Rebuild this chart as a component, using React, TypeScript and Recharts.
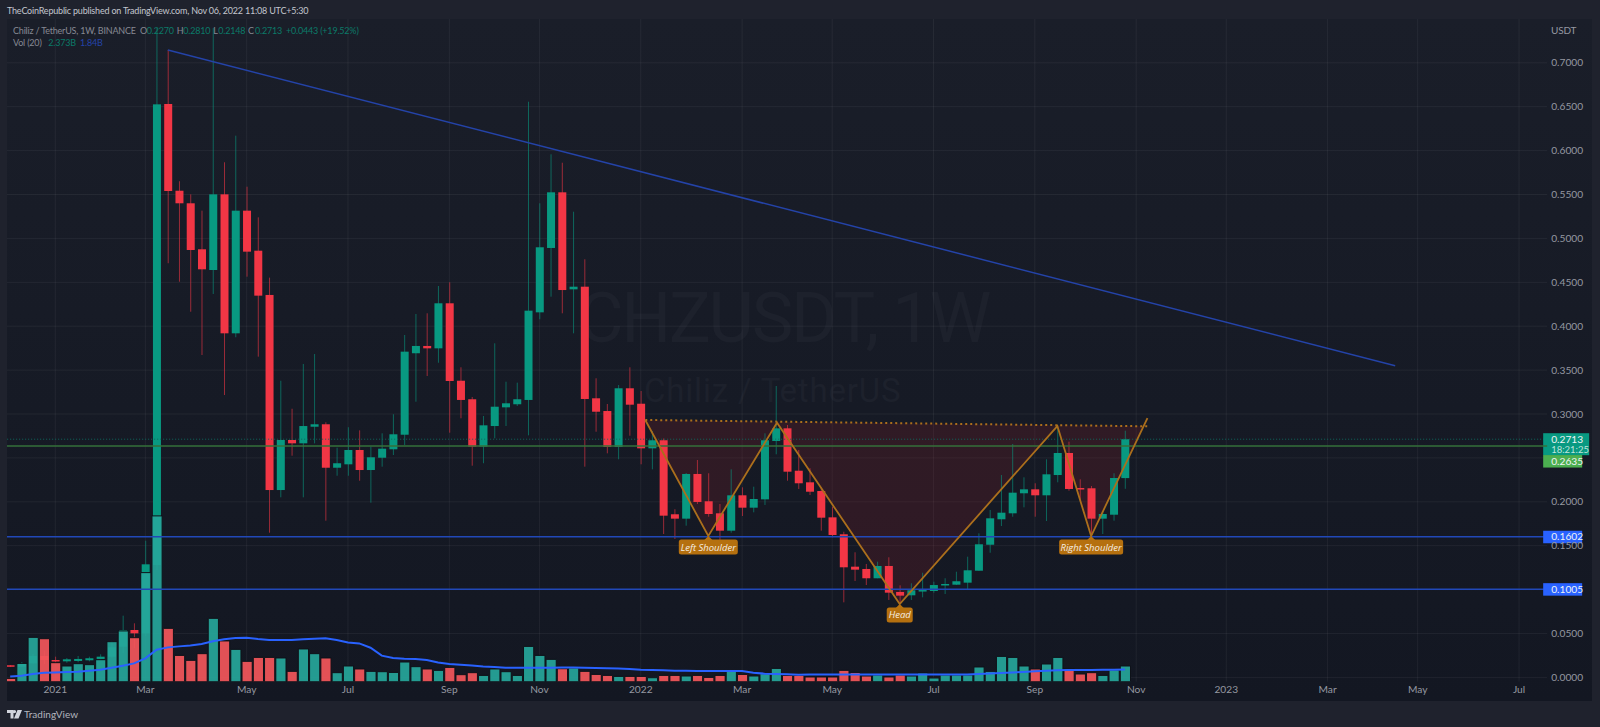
import { Area, Bar, CartesianGrid, Cell, ComposedChart, Line, ReferenceDot, ReferenceLine, XAxis, YAxis } from "recharts";

// weekly candles, BINANCE CHZ/USDT
const opens = [
  0.0138, 0.0122, 0.0161, 0.0244, 0.0198, 0.0183, 0.0187, 0.0195, 0.021, 0.0236,
  0.035, 0.054, 0.0502, 0.128, 0.6531, 0.5543, 0.54, 0.4876, 0.464, 0.5502,
  0.3919, 0.5316, 0.486, 0.4356, 0.2134, 0.2704, 0.2666, 0.2855, 0.2883, 0.2388,
  0.2427, 0.259, 0.2362, 0.2502, 0.2598, 0.2764, 0.3692, 0.3775, 0.3748, 0.4261,
  0.3379, 0.3168, 0.2628, 0.2863, 0.3076, 0.3111, 0.316, 0.4158, 0.4891, 0.5525,
  0.442, 0.445, 0.3179, 0.3034, 0.2624, 0.3293, 0.3117, 0.2609, 0.2701, 0.1858,
  0.1808, 0.2317, 0.2006, 0.1869, 0.1671, 0.2074, 0.1933, 0.2028, 0.2693, 0.2837,
  0.2354, 0.2222, 0.2123, 0.1823, 0.163, 0.1261, 0.1235, 0.1129, 0.1269, 0.0973,
  0.0935, 0.0984, 0.0984, 0.1049, 0.1056, 0.1079, 0.1215, 0.1511, 0.1801, 0.1869,
  0.2097, 0.2142, 0.2074, 0.2305, 0.2556, 0.2157, 0.2154, 0.1808, 0.1853, 0.227,
];
const closes = [
  0.013, 0.0158, 0.0244, 0.0198, 0.0183, 0.0206, 0.021, 0.0218, 0.0236, 0.0343,
  0.054, 0.0502, 0.1288, 0.6527, 0.554, 0.54, 0.4868, 0.4648, 0.5502, 0.3919,
  0.5316, 0.4849, 0.4348, 0.2134, 0.2704, 0.2666, 0.2863, 0.2883, 0.2388, 0.2439,
  0.259, 0.2362, 0.2507, 0.2605, 0.2769, 0.371, 0.3775, 0.3748, 0.4261, 0.3376,
  0.316, 0.2628, 0.2871, 0.3083, 0.3122, 0.3168, 0.4177, 0.4899, 0.5525, 0.4412,
  0.445, 0.3171, 0.3026, 0.2624, 0.3293, 0.3106, 0.2609, 0.2701, 0.1842, 0.1808,
  0.2317, 0.1998, 0.1861, 0.1671, 0.2074, 0.1933, 0.2032, 0.2701, 0.2837, 0.2343,
  0.2211, 0.2115, 0.1819, 0.1622, 0.1254, 0.1227, 0.1129, 0.1269, 0.0965, 0.0931,
  0.0992, 0.0995, 0.1052, 0.1064, 0.1095, 0.122, 0.1516, 0.1812, 0.1876, 0.2104,
  0.2142, 0.2074, 0.2313, 0.2556, 0.2146, 0.2146, 0.1808, 0.1861, 0.2271, 0.2713,
];
const highs = [
  0.0141, 0.0175, 0.0267, 0.0304, 0.0236, 0.0221, 0.0244, 0.0236, 0.0263, 0.0415,
  0.0703, 0.0616, 0.1557, 0.7396, 0.7146, 0.5651, 0.5502, 0.5316, 0.7396, 0.5867,
  0.617, 0.5589, 0.524, 0.4553, 0.3379, 0.306, 0.357, 0.3683, 0.2906, 0.2616,
  0.2849, 0.2814, 0.2628, 0.278, 0.2997, 0.39, 0.4139, 0.4147, 0.4458, 0.45,
  0.3532, 0.3194, 0.2977, 0.3805, 0.3368, 0.3357, 0.6557, 0.54, 0.5958, 0.5862,
  0.5304, 0.4762, 0.3407, 0.3114, 0.333, 0.3532, 0.3262, 0.2806, 0.2721, 0.1915,
  0.2328, 0.2476, 0.2325, 0.1975, 0.237, 0.2165, 0.2172, 0.278, 0.3319, 0.2875,
  0.259, 0.2382, 0.2165, 0.1944, 0.1659, 0.1425, 0.1292, 0.1318, 0.1368, 0.1049,
  0.1072, 0.1192, 0.109, 0.1129, 0.1204, 0.1375, 0.1641, 0.1907, 0.2305, 0.2658,
  0.2279, 0.2211, 0.2484, 0.2863, 0.2685, 0.2256, 0.218, 0.1895, 0.2325, 0.281,
];
const lows = [
  0.0118, 0.0118, 0.0153, 0.0153, 0.0164, 0.0167, 0.0172, 0.0183, 0.0198, 0.0224,
  0.0278, 0.0335, 0.0472, 0.1223, 0.4717, 0.4507, 0.4165, 0.3672, 0.4367, 0.3216,
  0.3874, 0.4564, 0.3653, 0.1648, 0.2051, 0.2525, 0.2051, 0.2666, 0.1785, 0.2297,
  0.2297, 0.224, 0.199, 0.24, 0.2533, 0.2647, 0.314, 0.3433, 0.3584, 0.2787,
  0.2951, 0.2411, 0.2439, 0.2723, 0.2863, 0.3091, 0.2757, 0.4079, 0.4336, 0.4147,
  0.3919, 0.24, 0.2798, 0.2552, 0.2484, 0.2753, 0.2427, 0.237, 0.1633, 0.1576,
  0.1728, 0.1975, 0.183, 0.1527, 0.1648, 0.1838, 0.188, 0.1964, 0.2541, 0.224,
  0.2146, 0.2077, 0.1671, 0.1596, 0.0855, 0.1098, 0.1052, 0.1129, 0.0882, 0.0836,
  0.0882, 0.0912, 0.0965, 0.095, 0.1052, 0.1003, 0.1215, 0.142, 0.1724, 0.183,
  0.1937, 0.183, 0.1781, 0.2222, 0.2126, 0.2021, 0.1611, 0.1633, 0.1785, 0.2148,
];
// volume in billions
const volumes = [
  0.5, 2.76, 6.69, 6.49, 2.87, 2.37, 2.72, 2.57, 3.32, 6.04,
  7.66, 6.64, 16.46, 25.02, 8.05, 3.97, 3.22, 4.23, 9.56, 6.15,
  4.88, 3.07, 3.67, 3.67, 3.58, 1.56, 4.94, 4.23, 3.58, 1.36,
  2.37, 1.92, 1.56, 1.51, 1.4, 2.97, 2.27, 1.92, 1.71, 2.16,
  1.06, 1.36, 0.95, 1.92, 1.51, 0.95, 5.33, 3.97, 3.37, 1.96,
  2.07, 1.56, 1.1, 0.95, 0.8, 0.8, 0.8, 0.6, 0.95, 0.95,
  0.86, 0.95, 0.65, 0.95, 1.56, 1.1, 0.86, 1.21, 2.01, 0.95,
  0.95, 0.71, 0.71, 0.71, 1.71, 1.4, 0.86, 1.01, 0.71, 1.01,
  0.86, 1.31, 0.56, 1.01, 1.01, 1.01, 2.22, 1.56, 3.82, 3.67,
  2.37, 1.92, 2.67, 3.67, 1.92, 1.16, 1.36, 0.95, 1.77, 2.37,
];
const volumeMa = [
  0.8, 0.91, 1.16, 1.36, 1.4, 1.46, 1.51, 1.66, 1.81, 2.11,
  2.42, 2.76, 3.52, 4.83, 5.18, 5.33, 5.48, 5.69, 6.09, 6.39,
  6.6, 6.64, 6.45, 6.3, 6.3, 6.3, 6.39, 6.49, 6.54, 6.3,
  5.93, 5.78, 5.13, 3.93, 3.58, 3.47, 3.43, 3.28, 2.91, 2.67,
  2.57, 2.46, 2.31, 2.2, 2.11, 2.11, 2.11, 2.11, 2.11, 2.14,
  2.16, 2.11, 2.08, 2.04, 2.01, 1.93, 1.81, 1.78, 1.72, 1.66,
  1.66, 1.63, 1.62, 1.62, 1.62, 1.62, 1.36, 1.21, 1.18, 1.13,
  1.06, 1.1, 1.1, 1.1, 1.1, 1.1, 1.1, 1.1, 1.1, 1.1,
  1.1, 1.1, 1.1, 1.1, 1.1, 1.1, 1.16, 1.24, 1.31, 1.39,
  1.46, 1.56, 1.66, 1.71, 1.77, 1.77, 1.77, 1.8, 1.81, 1.84,
];

const priceTicks = [0, 0.05, 0.1, 0.15, 0.2, 0.25, 0.3, 0.35, 0.4, 0.45, 0.5, 0.55, 0.6, 0.65, 0.7];
// these two are hidden behind the price tags in the picture
const coveredTicks = [0.1, 0.25];

const monthTicks: Record<string, string> = {
  "2021-01-04": "2021", "2021-03-01": "Mar", "2021-05-03": "May", "2021-07-05": "Jul",
  "2021-09-06": "Sep", "2021-11-01": "Nov", "2022-01-03": "2022", "2022-03-07": "Mar",
  "2022-05-02": "May", "2022-07-04": "Jul", "2022-09-05": "Sep", "2022-11-07": "Nov",
  "2023-01-02": "2023", "2023-03-06": "Mar", "2023-05-01": "May", "2023-07-03": "Jul",
};

// drawings, i = week index (fractions allowed), v = price
const trendLine = [{ i: 14, v: 0.7146 }, { i: 123, v: 0.355 }];
const patternLine = [
  { i: 56.4, v: 0.2932 }, { i: 62, v: 0.161 }, { i: 68.1, v: 0.2901 }, { i: 79, v: 0.0836 },
  { i: 93, v: 0.2863 }, { i: 96, v: 0.161 }, { i: 101, v: 0.2954 },
];
const necklineDots = [{ i: 56.4, v: 0.2932 }, { i: 101, v: 0.286 }];
const patternFill = [
  { i: 56.4, range: [0.2932, 0.2932] }, { i: 62, range: [0.161, 0.2922] }, { i: 68.1, range: [0.2901, 0.2912] },
  { i: 79, range: [0.0836, 0.2895] }, { i: 93, range: [0.2863, 0.2872] }, { i: 96, range: [0.161, 0.2868] },
  { i: 100.7, range: [0.2861, 0.2861] },
];
const patternLabels = [
  { text: "Left Shoulder", i: 62, v: 0.161 },
  { text: "Head", i: 79, v: 0.0836 },
  { text: "Right Shoulder", i: 96, v: 0.161 },
];
const labelWidths: Record<string, number> = { "Left Shoulder": 59, Head: 26, "Right Shoulder": 64 };

const ohlcLegend = [
  { key: "O", value: "0.2270", keyX: 140, valueX: 146.7 },
  { key: "H", value: "0.2810", keyX: 176.7, valueX: 183.3 },
  { key: "L", value: "0.2148", keyX: 213.3, valueX: 218.3 },
  { key: "C", value: "0.2713", keyX: 248, valueX: 255 },
];

const GREEN = "#089981";
const RED = "#f23645";
const AXIS_TEXT = "#9598a1";
const LEGEND_GREEN = "#0b7a68";
const FONT = "Lato, 'Open Sans', sans-serif";

// one category per week, the last ones are the empty space to the right of the last candle
const weeks = Array.from({ length: 137 }, (_, i) =>
  new Date(Date.UTC(2020, 11, 7 + i * 7)).toISOString().slice(0, 10)
);

const rows = weeks.map((week, i) => ({
  week,
  open: opens[i],
  close: closes[i],
  candle: opens[i] === undefined ? null : [lows[i], highs[i]],
  volume: volumes[i] ?? null,
  ma: volumeMa[i] ?? null,
}));

function Candle({ x, y, width, height, payload }: any) {
  if (payload.open === undefined || !height) return null;
  const top = Math.min(y, y + height);
  const h = Math.abs(height);
  const [low, high] = payload.candle;
  const perUnit = h / (high - low);
  const up = payload.close >= payload.open;
  const color = up ? GREEN : RED;
  const bodyTop = top + (high - Math.max(payload.open, payload.close)) * perUnit;
  const bodyH = Math.max(Math.abs(payload.close - payload.open) * perUnit, 1.5);
  const mid = x + width / 2;
  return (
    <g>
      <line x1={mid} x2={mid} y1={top} y2={top + h} stroke={color} strokeOpacity={0.6} strokeWidth={1} />
      <rect x={x} y={bodyTop} width={width} height={bodyH} fill={color} />
    </g>
  );
}

// shift: the 0.2635 tag sits below the 0.2713 one instead of on its own line
function PriceTag({ viewBox, text, sub, color, boxWidth, shift = 0 }: any) {
  const left = viewBox.x + viewBox.width - 4;
  const cy = viewBox.y + shift;
  return (
    <g>
      <rect x={left} y={cy - 6} width={boxWidth} height={sub ? 22 : 12.5} fill={color} />
      <text x={left + 8} y={cy + 3.5} fontSize={10.2} fontFamily={FONT} fill="#eef3f5">{text}</text>
      {sub && <text x={left + 8} y={cy + 13.5} fontSize={9.5} fontFamily={FONT} fill="#bfe3db">{sub}</text>}
    </g>
  );
}

function PatternLabel({ cx, cy, text }: any) {
  const w = labelWidths[text];
  return (
    <g>
      <path d={`M${cx} ${cy} l-5 5 h10 z`} fill="#b5700f" />
      <rect x={cx - w / 2} y={cy + 3.5} width={w} height={15} rx={2.5} fill="#b5700f" />
      <text x={cx} y={cy + 14.5} textAnchor="middle" fontSize={9.5} fontStyle="italic" fontFamily="'Open Sans', sans-serif" fill="#f5efe4">{text}</text>
    </g>
  );
}

function App() {
  const smallText = { position: "absolute", fontSize: 9, whiteSpace: "pre", letterSpacing: -0.2 } as const;
  return (
    <div style={{ position: "absolute", left: 0, top: 0, width: 1600, height: 727, overflow: "hidden", background: "#1f222d", fontFamily: FONT }}>
      <div style={{ position: "absolute", left: 7, top: 19, width: 1585, height: 682, background: "linear-gradient(#1a1e29, #131722)" }} />
      <div style={{ position: "absolute", left: 578, top: 277, fontSize: 70, letterSpacing: -2.3, color: "#1d212c", whiteSpace: "nowrap", fontFamily: "Roboto, sans-serif" }}>CHZUSDT, 1W</div>
      <div style={{ position: "absolute", left: 644, top: 371, fontSize: 33, letterSpacing: 0.8, color: "#1d212c", whiteSpace: "nowrap", fontFamily: "Roboto, sans-serif" }}>Chiliz / TetherUS</div>

      <div style={{ position: "absolute", left: 0, top: 0 }}>
        <ComposedChart width={1600} height={727} data={rows} margin={{ top: 19, left: 4.57, right: 4.83, bottom: 25.3 }}>
          <CartesianGrid xAxisId="time" yAxisId="price" stroke="#ffffff" strokeOpacity={0.055} syncWithTicks />
          <XAxis
            xAxisId="time"
            dataKey="week"
            ticks={Object.keys(monthTicks)}
            interval={0}
            tickFormatter={(w: string) => monthTicks[w]}
            tick={{ fill: AXIS_TEXT, fontSize: 10.2, fontFamily: FONT }}
            tickLine={false}
            axisLine={false}
            height={20}
            tickSize={0}
            tickMargin={4}
          />
          <XAxis xAxisId="vol" dataKey="week" orientation="top" height={0} hide />
          <XAxis xAxisId="n" dataKey="i" type="number" domain={[-0.5, 136.5]} allowDataOverflow orientation="top" height={0} hide />
          <YAxis
            yAxisId="price"
            orientation="right"
            domain={[-0.0049, 0.7499]}
            allowDataOverflow
            ticks={priceTicks}
            interval={0}
            tickFormatter={(v: number) => (coveredTicks.includes(v) ? "" : v.toFixed(4))}
            tick={{ fill: AXIS_TEXT, fontSize: 10.2, fontFamily: FONT }}
            tickLine={false}
            axisLine={false}
            tickSize={0}
            tickMargin={4}
            width={48}
          />
          <YAxis yAxisId="volume" domain={[0, 100]} allowDataOverflow hide />

          <Area
            xAxisId="n"
            yAxisId="price"
            data={patternFill}
            dataKey="range"
            type="linear"
            stroke="none"
            fill="#8b1f2a"
            fillOpacity={0.22}
            dot={false}
            activeDot={false}
            isAnimationActive={false}
          />

          <ReferenceLine xAxisId="time" yAxisId="price" y={0.2713} stroke="#0e6a5d" strokeDasharray="1 2" label={<PriceTag text="0.2713" sub="18:21:25" color={GREEN} boxWidth={46} />} />
          <ReferenceLine xAxisId="time" yAxisId="price" y={0.2635} stroke="#34703a" strokeWidth={1.5} label={<PriceTag text="0.2635" color="#4caf50" boxWidth={39} shift={15} />} />
          <ReferenceLine xAxisId="time" yAxisId="price" y={0.1602} stroke="#2148b8" strokeWidth={1.5} label={<PriceTag text="0.1602" color="#2962ff" boxWidth={39} />} />
          <ReferenceLine xAxisId="time" yAxisId="price" y={0.1005} stroke="#2148b8" strokeWidth={1.5} label={<PriceTag text="0.1005" color="#2962ff" boxWidth={39} />} />

          <Bar xAxisId="time" yAxisId="price" dataKey="candle" barSize={8} shape={<Candle />} isAnimationActive={false} />

          <Bar xAxisId="vol" yAxisId="volume" dataKey="volume" barSize={10.2} stroke="#0f1219" strokeWidth={1} fillOpacity={0.93} isAnimationActive={false}>
            {rows.map((r) => (
              <Cell key={r.week} fill={r.close >= r.open ? "#26a69a" : "#f2565a"} />
            ))}
          </Bar>
          <Line xAxisId="vol" yAxisId="volume" dataKey="ma" stroke="#2962ff" strokeWidth={2} dot={false} activeDot={false} isAnimationActive={false} />

          <Line xAxisId="n" yAxisId="price" data={trendLine} dataKey="v" stroke="#2443a8" strokeWidth={1.5} dot={false} activeDot={false} isAnimationActive={false} />
          <Line xAxisId="n" yAxisId="price" data={necklineDots} dataKey="v" stroke="#ab6f1c" strokeWidth={2} strokeDasharray="2 3" dot={false} activeDot={false} isAnimationActive={false} />
          <Line xAxisId="n" yAxisId="price" data={patternLine} dataKey="v" stroke="#ab6f1c" strokeWidth={1.8} dot={false} activeDot={false} isAnimationActive={false} />

          {patternLabels.map((l) => (
            <ReferenceDot key={l.text} xAxisId="n" yAxisId="price" x={l.i} y={l.v} shape={<PatternLabel text={l.text} />} />
          ))}
        </ComposedChart>
      </div>

      {/* frame strip over the left edge of the plot */}
      <div style={{ position: "absolute", left: 0, top: 0, width: 7, height: 727, background: "#1f222d" }} />

      <div style={{ ...smallText, left: 7, top: 4.5, color: "#c3c6ce" }}>
        TheCoinRepublic published on TradingView.com, Nov 06, 2022 11:08 UTC+5:30
      </div>
      <div style={{ ...smallText, left: 13, top: 24.5, color: "#868993" }}>Chiliz / TetherUS, 1W, BINANCE</div>
      {ohlcLegend.map((o) => (
        <span key={o.key}>
          <div style={{ ...smallText, left: o.keyX, top: 24.5, color: "#868993" }}>{o.key}</div>
          <div style={{ ...smallText, left: o.valueX, top: 24.5, color: LEGEND_GREEN }}>{o.value}</div>
        </span>
      ))}
      <div style={{ ...smallText, left: 286, top: 24.5, color: LEGEND_GREEN }}>+0.0443 (+19.52%)</div>
      <div style={{ ...smallText, left: 13, top: 37, color: "#868993" }}>Vol (20)</div>
      <div style={{ ...smallText, left: 48.3, top: 37, color: LEGEND_GREEN }}>2.373B</div>
      <div style={{ ...smallText, left: 80, top: 37, color: "#2443a8" }}>1.84B</div>
      <div style={{ ...smallText, left: 1551, top: 23.5, color: AXIS_TEXT, fontSize: 10 }}>USDT</div>

      <svg style={{ position: "absolute", left: 7, top: 710 }} width={15} height={9}>
        <path d="M0 0h6.5v8.5h-3v-5.5h-3.5z M7.5 0a1.6 1.6 0 1 1 0 3.2a1.6 1.6 0 1 1 0-3.2z M10.5 0h4.5l-3.5 8.5h-4.5z" fill="#d1d4dc" />
      </svg>
      <div style={{ position: "absolute", left: 24, top: 708, fontSize: 10, color: "#b2b5be" }}>TradingView</div>
    </div>
  );
}

export default App;
